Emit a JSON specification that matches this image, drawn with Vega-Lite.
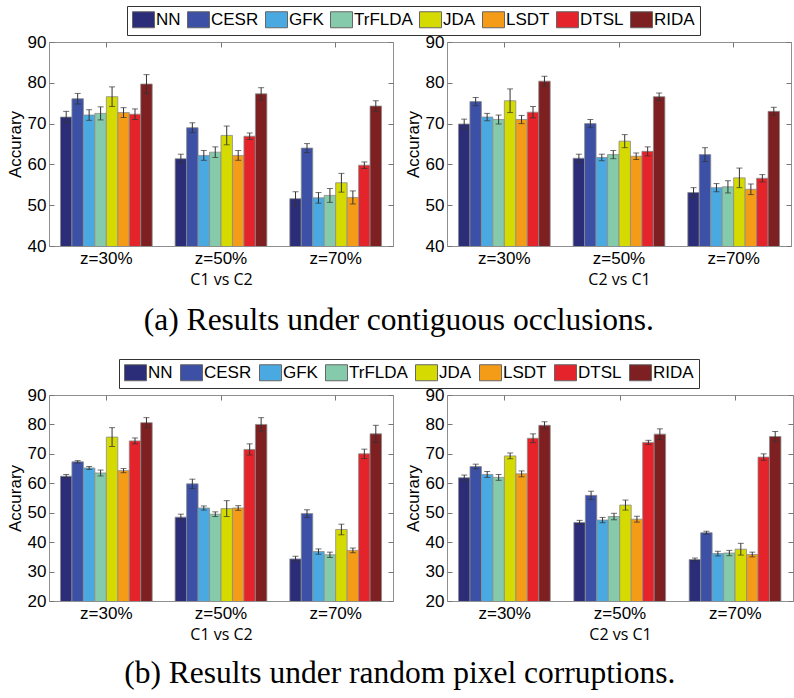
{
"$schema": "https://vega.github.io/schema/vega-lite/v6.json",
"padding": 5,
"spacing": 22,
"datasets": {"d": [
{"p":"a1","z":"z=30%","m":"NN","v":71.6,"lo":70.2,"hi":73.0},
{"p":"a1","z":"z=30%","m":"CESR","v":76.1,"lo":74.8,"hi":77.4},
{"p":"a1","z":"z=30%","m":"GFK","v":72.1,"lo":70.8,"hi":73.4},
{"p":"a1","z":"z=30%","m":"TrFLDA","v":72.5,"lo":70.9,"hi":74.1},
{"p":"a1","z":"z=30%","m":"JDA","v":76.6,"lo":74.2,"hi":79.0},
{"p":"a1","z":"z=30%","m":"LSDT","v":72.7,"lo":71.5,"hi":73.9},
{"p":"a1","z":"z=30%","m":"DTSL","v":72.3,"lo":71.0,"hi":73.6},
{"p":"a1","z":"z=30%","m":"RIDA","v":79.7,"lo":77.4,"hi":82.0},
{"p":"a1","z":"z=50%","m":"NN","v":61.4,"lo":60.3,"hi":62.5},
{"p":"a1","z":"z=50%","m":"CESR","v":69.0,"lo":67.8,"hi":70.2},
{"p":"a1","z":"z=50%","m":"GFK","v":62.2,"lo":61.0,"hi":63.4},
{"p":"a1","z":"z=50%","m":"TrFLDA","v":63.0,"lo":61.7,"hi":64.3},
{"p":"a1","z":"z=50%","m":"JDA","v":67.1,"lo":64.8,"hi":69.4},
{"p":"a1","z":"z=50%","m":"LSDT","v":62.2,"lo":61.0,"hi":63.4},
{"p":"a1","z":"z=50%","m":"DTSL","v":66.9,"lo":66.1,"hi":67.7},
{"p":"a1","z":"z=50%","m":"RIDA","v":77.3,"lo":75.8,"hi":78.8},
{"p":"a1","z":"z=70%","m":"NN","v":51.6,"lo":49.9,"hi":53.3},
{"p":"a1","z":"z=70%","m":"CESR","v":64.0,"lo":62.9,"hi":65.1},
{"p":"a1","z":"z=70%","m":"GFK","v":51.8,"lo":50.5,"hi":53.1},
{"p":"a1","z":"z=70%","m":"TrFLDA","v":52.4,"lo":50.7,"hi":54.1},
{"p":"a1","z":"z=70%","m":"JDA","v":55.5,"lo":53.2,"hi":57.8},
{"p":"a1","z":"z=70%","m":"LSDT","v":51.9,"lo":50.3,"hi":53.5},
{"p":"a1","z":"z=70%","m":"DTSL","v":59.8,"lo":59.0,"hi":60.6},
{"p":"a1","z":"z=70%","m":"RIDA","v":74.3,"lo":73.0,"hi":75.6},
{"p":"a2","z":"z=30%","m":"NN","v":69.9,"lo":68.7,"hi":71.1},
{"p":"a2","z":"z=30%","m":"CESR","v":75.4,"lo":74.4,"hi":76.4},
{"p":"a2","z":"z=30%","m":"GFK","v":71.6,"lo":70.7,"hi":72.5},
{"p":"a2","z":"z=30%","m":"TrFLDA","v":71.0,"lo":69.9,"hi":72.1},
{"p":"a2","z":"z=30%","m":"JDA","v":75.6,"lo":72.7,"hi":78.5},
{"p":"a2","z":"z=30%","m":"LSDT","v":71.0,"lo":70.0,"hi":72.0},
{"p":"a2","z":"z=30%","m":"DTSL","v":72.8,"lo":71.4,"hi":74.2},
{"p":"a2","z":"z=30%","m":"RIDA","v":80.4,"lo":79.2,"hi":81.6},
{"p":"a2","z":"z=50%","m":"NN","v":61.5,"lo":60.5,"hi":62.5},
{"p":"a2","z":"z=50%","m":"CESR","v":70.0,"lo":69.0,"hi":71.0},
{"p":"a2","z":"z=50%","m":"GFK","v":61.7,"lo":60.9,"hi":62.5},
{"p":"a2","z":"z=50%","m":"TrFLDA","v":62.4,"lo":61.4,"hi":63.4},
{"p":"a2","z":"z=50%","m":"JDA","v":65.7,"lo":64.1,"hi":67.3},
{"p":"a2","z":"z=50%","m":"LSDT","v":62.0,"lo":61.2,"hi":62.8},
{"p":"a2","z":"z=50%","m":"DTSL","v":63.2,"lo":62.1,"hi":64.3},
{"p":"a2","z":"z=50%","m":"RIDA","v":76.6,"lo":75.7,"hi":77.5},
{"p":"a2","z":"z=70%","m":"NN","v":53.1,"lo":51.9,"hi":54.3},
{"p":"a2","z":"z=70%","m":"CESR","v":62.4,"lo":60.7,"hi":64.1},
{"p":"a2","z":"z=70%","m":"GFK","v":54.3,"lo":53.3,"hi":55.3},
{"p":"a2","z":"z=70%","m":"TrFLDA","v":54.5,"lo":53.0,"hi":56.0},
{"p":"a2","z":"z=70%","m":"JDA","v":56.7,"lo":54.3,"hi":59.1},
{"p":"a2","z":"z=70%","m":"LSDT","v":53.9,"lo":52.6,"hi":55.2},
{"p":"a2","z":"z=70%","m":"DTSL","v":56.6,"lo":55.7,"hi":57.5},
{"p":"a2","z":"z=70%","m":"RIDA","v":73.0,"lo":72.0,"hi":74.0},
{"p":"b1","z":"z=30%","m":"NN","v":62.4,"lo":61.8,"hi":63.0},
{"p":"b1","z":"z=30%","m":"CESR","v":67.3,"lo":66.9,"hi":67.7},
{"p":"b1","z":"z=30%","m":"GFK","v":65.2,"lo":64.7,"hi":65.7},
{"p":"b1","z":"z=30%","m":"TrFLDA","v":63.5,"lo":62.5,"hi":64.5},
{"p":"b1","z":"z=30%","m":"JDA","v":75.7,"lo":72.5,"hi":78.9},
{"p":"b1","z":"z=30%","m":"LSDT","v":64.3,"lo":63.6,"hi":65.0},
{"p":"b1","z":"z=30%","m":"DTSL","v":74.4,"lo":73.4,"hi":75.4},
{"p":"b1","z":"z=30%","m":"RIDA","v":80.6,"lo":78.9,"hi":82.3},
{"p":"b1","z":"z=50%","m":"NN","v":48.5,"lo":47.5,"hi":49.5},
{"p":"b1","z":"z=50%","m":"CESR","v":59.8,"lo":58.2,"hi":61.4},
{"p":"b1","z":"z=50%","m":"GFK","v":51.6,"lo":50.9,"hi":52.3},
{"p":"b1","z":"z=50%","m":"TrFLDA","v":49.5,"lo":48.7,"hi":50.3},
{"p":"b1","z":"z=50%","m":"JDA","v":51.4,"lo":48.7,"hi":54.1},
{"p":"b1","z":"z=50%","m":"LSDT","v":51.6,"lo":50.8,"hi":52.4},
{"p":"b1","z":"z=50%","m":"DTSL","v":71.5,"lo":69.6,"hi":73.4},
{"p":"b1","z":"z=50%","m":"RIDA","v":80.0,"lo":77.7,"hi":82.3},
{"p":"b1","z":"z=70%","m":"NN","v":34.3,"lo":33.4,"hi":35.2},
{"p":"b1","z":"z=70%","m":"CESR","v":49.7,"lo":48.4,"hi":51.0},
{"p":"b1","z":"z=70%","m":"GFK","v":36.8,"lo":35.9,"hi":37.7},
{"p":"b1","z":"z=70%","m":"TrFLDA","v":35.7,"lo":34.8,"hi":36.6},
{"p":"b1","z":"z=70%","m":"JDA","v":44.3,"lo":42.5,"hi":46.1},
{"p":"b1","z":"z=70%","m":"LSDT","v":37.2,"lo":36.4,"hi":38.0},
{"p":"b1","z":"z=70%","m":"DTSL","v":70.0,"lo":68.4,"hi":71.6},
{"p":"b1","z":"z=70%","m":"RIDA","v":76.8,"lo":73.9,"hi":79.7},
{"p":"b2","z":"z=30%","m":"NN","v":61.9,"lo":61.0,"hi":62.8},
{"p":"b2","z":"z=30%","m":"CESR","v":65.7,"lo":64.9,"hi":66.5},
{"p":"b2","z":"z=30%","m":"GFK","v":63.0,"lo":62.0,"hi":64.0},
{"p":"b2","z":"z=30%","m":"TrFLDA","v":62.0,"lo":61.0,"hi":63.0},
{"p":"b2","z":"z=30%","m":"JDA","v":69.3,"lo":68.3,"hi":70.3},
{"p":"b2","z":"z=30%","m":"LSDT","v":63.2,"lo":62.2,"hi":64.2},
{"p":"b2","z":"z=30%","m":"DTSL","v":75.3,"lo":73.8,"hi":76.8},
{"p":"b2","z":"z=30%","m":"RIDA","v":79.7,"lo":78.5,"hi":80.9},
{"p":"b2","z":"z=50%","m":"NN","v":46.7,"lo":46.0,"hi":47.4},
{"p":"b2","z":"z=50%","m":"CESR","v":55.9,"lo":54.5,"hi":57.3},
{"p":"b2","z":"z=50%","m":"GFK","v":47.5,"lo":46.6,"hi":48.4},
{"p":"b2","z":"z=50%","m":"TrFLDA","v":48.7,"lo":47.6,"hi":49.8},
{"p":"b2","z":"z=50%","m":"JDA","v":52.6,"lo":50.9,"hi":54.3},
{"p":"b2","z":"z=50%","m":"LSDT","v":47.8,"lo":46.8,"hi":48.8},
{"p":"b2","z":"z=50%","m":"DTSL","v":73.9,"lo":73.2,"hi":74.6},
{"p":"b2","z":"z=50%","m":"RIDA","v":76.7,"lo":74.9,"hi":78.5},
{"p":"b2","z":"z=70%","m":"NN","v":34.1,"lo":33.6,"hi":34.6},
{"p":"b2","z":"z=70%","m":"CESR","v":43.2,"lo":42.7,"hi":43.7},
{"p":"b2","z":"z=70%","m":"GFK","v":36.1,"lo":35.3,"hi":36.9},
{"p":"b2","z":"z=70%","m":"TrFLDA","v":36.3,"lo":35.4,"hi":37.2},
{"p":"b2","z":"z=70%","m":"JDA","v":37.6,"lo":35.6,"hi":39.6},
{"p":"b2","z":"z=70%","m":"LSDT","v":35.8,"lo":35.0,"hi":36.6},
{"p":"b2","z":"z=70%","m":"DTSL","v":68.9,"lo":67.8,"hi":70.0},
{"p":"b2","z":"z=70%","m":"RIDA","v":75.9,"lo":74.2,"hi":77.6}
]},
"data": {"name": "d"},
"resolve": {"scale": {"y": "independent"}, "legend": {"color": "independent"}},
"vconcat": [
{
 "spacing": 9,
 "title": {"text": "(a) Results under contiguous occlusions.", "orient": "bottom", "anchor": "middle", "font": "Liberation Serif", "fontSize": 31.5, "fontWeight": "normal", "color": "black", "offset": 17},
 "hconcat": [
 {
  "width": 344, "height": 204,
  "transform": [{"filter": "datum.p == 'a1'"}],
  "resolve": {"axis": {"x": "independent", "y": "independent"}},
  "layer": [
   {"mark": {"type": "bar", "stroke": "#8c8c8c", "strokeWidth": 0.8, "clip": true},
    "encoding": {
     "x": {"field": "z", "type": "nominal", "sort": ["z=30%","z=50%","z=70%"], "scale": {"paddingInner": 0.2, "paddingOuter": 0.1}, "axis": {"orient": "bottom", "title": "C1 vs C2", "tickSize": -5, "labelAngle": 0, "labelPadding": 9, "titlePadding": 5}},
     "xOffset": {"field": "m", "type": "nominal", "sort": ["NN","CESR","GFK","TrFLDA","JDA","LSDT","DTSL","RIDA"], "scale": {"paddingInner": 0, "paddingOuter": 0}},
     "y": {"field": "v", "type": "quantitative", "scale": {"domain": [40, 90], "nice": false, "zero": false}, "axis": {"orient": "left", "title": "Accurary", "values": [40,50,60,70,80,90], "tickSize": -5, "labelPadding": 8, "titlePadding": 3}},
     "color": {"field": "m", "type": "nominal", "sort": ["NN","CESR","GFK","TrFLDA","JDA","LSDT","DTSL","RIDA"], "scale": {"domain": ["NN","CESR","GFK","TrFLDA","JDA","LSDT","DTSL","RIDA"], "range": ["#2c2d78","#3c50a6","#4ba9e1","#84caab","#d5db00","#f49b17","#e4232a","#7e1f21"]},
      "legend": {"orient": "none", "legendX": 78, "legendY": -36, "direction": "horizontal", "columns": 8, "title": null, "symbolType": "M-1,-1H1.75V1H-1Z", "symbolSize": 256, "symbolStrokeColor": "#666", "symbolStrokeWidth": 1, "labelFont": "Liberation Sans", "labelFontSize": 17, "labelColor": "black", "labelOffset": 7, "columnPadding": 4, "strokeColor": "#333", "fillColor": "white", "padding": 5}}
    }},
   {"mark": {"type": "rule", "color": "#333", "strokeWidth": 1},
    "encoding": {
     "x": {"field": "z", "type": "nominal", "sort": ["z=30%","z=50%","z=70%"], "axis": {"orient": "top", "labels": false, "title": null, "tickSize": -5}},
     "xOffset": {"field": "m", "type": "nominal", "sort": ["NN","CESR","GFK","TrFLDA","JDA","LSDT","DTSL","RIDA"]},
     "y": {"field": "lo", "type": "quantitative", "axis": {"orient": "right", "labels": false, "title": null, "tickSize": -5, "values": [40,50,60,70,80,90]}},
     "y2": {"field": "hi"}
    }},
   {"mark": {"type": "tick", "color": "#333", "size": 6, "thickness": 1},
    "encoding": {"x": {"field": "z", "type": "nominal", "sort": ["z=30%","z=50%","z=70%"], "axis": null}, "xOffset": {"field": "m", "type": "nominal", "sort": ["NN","CESR","GFK","TrFLDA","JDA","LSDT","DTSL","RIDA"]}, "y": {"field": "lo", "type": "quantitative", "axis": null}}},
   {"mark": {"type": "tick", "color": "#333", "size": 6, "thickness": 1},
    "encoding": {"x": {"field": "z", "type": "nominal", "sort": ["z=30%","z=50%","z=70%"], "axis": null}, "xOffset": {"field": "m", "type": "nominal", "sort": ["NN","CESR","GFK","TrFLDA","JDA","LSDT","DTSL","RIDA"]}, "y": {"field": "hi", "type": "quantitative", "axis": null}}}
  ]
 },
 {
  "width": 344, "height": 204,
  "transform": [{"filter": "datum.p == 'a2'"}],
  "resolve": {"axis": {"x": "independent", "y": "independent"}},
  "layer": [
   {"mark": {"type": "bar", "stroke": "#8c8c8c", "strokeWidth": 0.8, "clip": true},
    "encoding": {
     "x": {"field": "z", "type": "nominal", "sort": ["z=30%","z=50%","z=70%"], "scale": {"paddingInner": 0.2, "paddingOuter": 0.1}, "axis": {"orient": "bottom", "title": "C2 vs C1", "tickSize": -5, "labelAngle": 0, "labelPadding": 9, "titlePadding": 5}},
     "xOffset": {"field": "m", "type": "nominal", "sort": ["NN","CESR","GFK","TrFLDA","JDA","LSDT","DTSL","RIDA"], "scale": {"paddingInner": 0, "paddingOuter": 0}},
     "y": {"field": "v", "type": "quantitative", "scale": {"domain": [40, 90], "nice": false, "zero": false}, "axis": {"orient": "left", "title": "Accurary", "values": [40,50,60,70,80,90], "tickSize": -5, "labelPadding": 8, "titlePadding": 3}},
     "color": {"field": "m", "type": "nominal", "sort": ["NN","CESR","GFK","TrFLDA","JDA","LSDT","DTSL","RIDA"], "scale": {"domain": ["NN","CESR","GFK","TrFLDA","JDA","LSDT","DTSL","RIDA"], "range": ["#2c2d78","#3c50a6","#4ba9e1","#84caab","#d5db00","#f49b17","#e4232a","#7e1f21"]},
      "legend": {"orient": "none", "legendX": 78, "legendY": -36, "direction": "horizontal", "columns": 8, "title": null, "symbolType": "M-1,-1H1.75V1H-1Z", "symbolSize": 256, "symbolStrokeColor": "#666", "symbolStrokeWidth": 1, "labelFont": "Liberation Sans", "labelFontSize": 17, "labelColor": "black", "labelOffset": 7, "columnPadding": 4, "strokeColor": "#333", "fillColor": "white", "padding": 5}}
    }},
   {"mark": {"type": "rule", "color": "#333", "strokeWidth": 1},
    "encoding": {
     "x": {"field": "z", "type": "nominal", "sort": ["z=30%","z=50%","z=70%"], "axis": {"orient": "top", "labels": false, "title": null, "tickSize": -5}},
     "xOffset": {"field": "m", "type": "nominal", "sort": ["NN","CESR","GFK","TrFLDA","JDA","LSDT","DTSL","RIDA"]},
     "y": {"field": "lo", "type": "quantitative", "axis": {"orient": "right", "labels": false, "title": null, "tickSize": -5, "values": [40,50,60,70,80,90]}},
     "y2": {"field": "hi"}
    }},
   {"mark": {"type": "tick", "color": "#333", "size": 6, "thickness": 1},
    "encoding": {"x": {"field": "z", "type": "nominal", "sort": ["z=30%","z=50%","z=70%"], "axis": null}, "xOffset": {"field": "m", "type": "nominal", "sort": ["NN","CESR","GFK","TrFLDA","JDA","LSDT","DTSL","RIDA"]}, "y": {"field": "lo", "type": "quantitative", "axis": null}}},
   {"mark": {"type": "tick", "color": "#333", "size": 6, "thickness": 1},
    "encoding": {"x": {"field": "z", "type": "nominal", "sort": ["z=30%","z=50%","z=70%"], "axis": null}, "xOffset": {"field": "m", "type": "nominal", "sort": ["NN","CESR","GFK","TrFLDA","JDA","LSDT","DTSL","RIDA"]}, "y": {"field": "hi", "type": "quantitative", "axis": null}}}
  ]
 }
 ]
},
{
 "spacing": 9,
 "title": {"text": "(b) Results under random pixel corruptions.", "orient": "bottom", "anchor": "middle", "font": "Liberation Serif", "fontSize": 31.5, "fontWeight": "normal", "color": "black", "offset": 15},
 "hconcat": [
 {
  "width": 344, "height": 206,
  "transform": [{"filter": "datum.p == 'b1'"}],
  "resolve": {"axis": {"x": "independent", "y": "independent"}},
  "layer": [
   {"mark": {"type": "bar", "stroke": "#8c8c8c", "strokeWidth": 0.8, "clip": true},
    "encoding": {
     "x": {"field": "z", "type": "nominal", "sort": ["z=30%","z=50%","z=70%"], "scale": {"paddingInner": 0.2, "paddingOuter": 0.1}, "axis": {"orient": "bottom", "title": "C1 vs C2", "tickSize": -5, "labelAngle": 0, "labelPadding": 9, "titlePadding": 5}},
     "xOffset": {"field": "m", "type": "nominal", "sort": ["NN","CESR","GFK","TrFLDA","JDA","LSDT","DTSL","RIDA"], "scale": {"paddingInner": 0, "paddingOuter": 0}},
     "y": {"field": "v", "type": "quantitative", "scale": {"domain": [20, 90], "nice": false, "zero": false}, "axis": {"orient": "left", "title": "Accurary", "values": [20,30,40,50,60,70,80,90], "tickSize": -5, "labelPadding": 8, "titlePadding": 3}},
     "color": {"field": "m", "type": "nominal", "sort": ["NN","CESR","GFK","TrFLDA","JDA","LSDT","DTSL","RIDA"], "scale": {"domain": ["NN","CESR","GFK","TrFLDA","JDA","LSDT","DTSL","RIDA"], "range": ["#2c2d78","#3c50a6","#4ba9e1","#84caab","#d5db00","#f49b17","#e4232a","#7e1f21"]},
      "legend": {"orient": "none", "legendX": 70, "legendY": -36, "direction": "horizontal", "columns": 8, "title": null, "symbolType": "M-1,-1H1.75V1H-1Z", "symbolSize": 256, "symbolStrokeColor": "#666", "symbolStrokeWidth": 1, "labelFont": "Liberation Sans", "labelFontSize": 17, "labelColor": "black", "labelOffset": 7, "columnPadding": 5, "strokeColor": "#333", "fillColor": "white", "padding": 5}}
    }},
   {"mark": {"type": "rule", "color": "#333", "strokeWidth": 1},
    "encoding": {
     "x": {"field": "z", "type": "nominal", "sort": ["z=30%","z=50%","z=70%"], "axis": {"orient": "top", "labels": false, "title": null, "tickSize": -5}},
     "xOffset": {"field": "m", "type": "nominal", "sort": ["NN","CESR","GFK","TrFLDA","JDA","LSDT","DTSL","RIDA"]},
     "y": {"field": "lo", "type": "quantitative", "axis": {"orient": "right", "labels": false, "title": null, "tickSize": -5, "values": [20,30,40,50,60,70,80,90]}},
     "y2": {"field": "hi"}
    }},
   {"mark": {"type": "tick", "color": "#333", "size": 6, "thickness": 1},
    "encoding": {"x": {"field": "z", "type": "nominal", "sort": ["z=30%","z=50%","z=70%"], "axis": null}, "xOffset": {"field": "m", "type": "nominal", "sort": ["NN","CESR","GFK","TrFLDA","JDA","LSDT","DTSL","RIDA"]}, "y": {"field": "lo", "type": "quantitative", "axis": null}}},
   {"mark": {"type": "tick", "color": "#333", "size": 6, "thickness": 1},
    "encoding": {"x": {"field": "z", "type": "nominal", "sort": ["z=30%","z=50%","z=70%"], "axis": null}, "xOffset": {"field": "m", "type": "nominal", "sort": ["NN","CESR","GFK","TrFLDA","JDA","LSDT","DTSL","RIDA"]}, "y": {"field": "hi", "type": "quantitative", "axis": null}}}
  ]
 },
 {
  "width": 346, "height": 206,
  "transform": [{"filter": "datum.p == 'b2'"}],
  "resolve": {"axis": {"x": "independent", "y": "independent"}},
  "layer": [
   {"mark": {"type": "bar", "stroke": "#8c8c8c", "strokeWidth": 0.8, "clip": true},
    "encoding": {
     "x": {"field": "z", "type": "nominal", "sort": ["z=30%","z=50%","z=70%"], "scale": {"paddingInner": 0.2, "paddingOuter": 0.1}, "axis": {"orient": "bottom", "title": "C2 vs C1", "tickSize": -5, "labelAngle": 0, "labelPadding": 9, "titlePadding": 5}},
     "xOffset": {"field": "m", "type": "nominal", "sort": ["NN","CESR","GFK","TrFLDA","JDA","LSDT","DTSL","RIDA"], "scale": {"paddingInner": 0, "paddingOuter": 0}},
     "y": {"field": "v", "type": "quantitative", "scale": {"domain": [20, 90], "nice": false, "zero": false}, "axis": {"orient": "left", "title": "Accurary", "values": [20,30,40,50,60,70,80,90], "tickSize": -5, "labelPadding": 8, "titlePadding": 3}},
     "color": {"field": "m", "type": "nominal", "sort": ["NN","CESR","GFK","TrFLDA","JDA","LSDT","DTSL","RIDA"], "scale": {"domain": ["NN","CESR","GFK","TrFLDA","JDA","LSDT","DTSL","RIDA"], "range": ["#2c2d78","#3c50a6","#4ba9e1","#84caab","#d5db00","#f49b17","#e4232a","#7e1f21"]},
      "legend": {"orient": "none", "legendX": 70, "legendY": -36, "direction": "horizontal", "columns": 8, "title": null, "symbolType": "M-1,-1H1.75V1H-1Z", "symbolSize": 256, "symbolStrokeColor": "#666", "symbolStrokeWidth": 1, "labelFont": "Liberation Sans", "labelFontSize": 17, "labelColor": "black", "labelOffset": 7, "columnPadding": 5, "strokeColor": "#333", "fillColor": "white", "padding": 5}}
    }},
   {"mark": {"type": "rule", "color": "#333", "strokeWidth": 1},
    "encoding": {
     "x": {"field": "z", "type": "nominal", "sort": ["z=30%","z=50%","z=70%"], "axis": {"orient": "top", "labels": false, "title": null, "tickSize": -5}},
     "xOffset": {"field": "m", "type": "nominal", "sort": ["NN","CESR","GFK","TrFLDA","JDA","LSDT","DTSL","RIDA"]},
     "y": {"field": "lo", "type": "quantitative", "axis": {"orient": "right", "labels": false, "title": null, "tickSize": -5, "values": [20,30,40,50,60,70,80,90]}},
     "y2": {"field": "hi"}
    }},
   {"mark": {"type": "tick", "color": "#333", "size": 6, "thickness": 1},
    "encoding": {"x": {"field": "z", "type": "nominal", "sort": ["z=30%","z=50%","z=70%"], "axis": null}, "xOffset": {"field": "m", "type": "nominal", "sort": ["NN","CESR","GFK","TrFLDA","JDA","LSDT","DTSL","RIDA"]}, "y": {"field": "lo", "type": "quantitative", "axis": null}}},
   {"mark": {"type": "tick", "color": "#333", "size": 6, "thickness": 1},
    "encoding": {"x": {"field": "z", "type": "nominal", "sort": ["z=30%","z=50%","z=70%"], "axis": null}, "xOffset": {"field": "m", "type": "nominal", "sort": ["NN","CESR","GFK","TrFLDA","JDA","LSDT","DTSL","RIDA"]}, "y": {"field": "hi", "type": "quantitative", "axis": null}}}
  ]
 }
 ]
}
],
"config": {
 "view": {"stroke": "#8f8f8f", "strokeWidth": 1},
 "font": "Liberation Sans",
 "axis": {"labelFont": "Liberation Sans", "labelFontSize": 17, "labelColor": "black", "titleFont": "Liberation Sans", "titleFontSize": 17, "titleFontWeight": "normal", "titleColor": "black", "domain": false, "grid": false, "tickColor": "#777"},
 "axisX": {"titleFont": "Open Sans", "titleFontSize": 16}
}
}
